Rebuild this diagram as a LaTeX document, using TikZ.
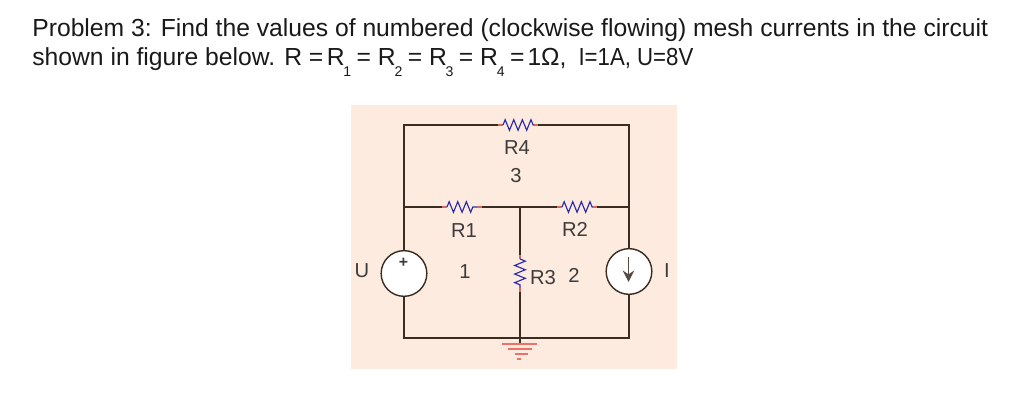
\documentclass[tikz,border=0pt]{standalone}
\usepackage{fontspec}
\setmainfont{Liberation Sans}
\usetikzlibrary{decorations.pathmorphing,arrows.meta,positioning}
\definecolor{panelbg}{HTML}{FDEBDF}
\definecolor{wirecol}{HTML}{3A2C22}
\definecolor{rescol}{HTML}{2A2AA8}
\definecolor{stubcol}{HTML}{D96A5A}
\definecolor{gndcol}{HTML}{EC7268}
\definecolor{labelcol}{HTML}{3C3C3C}
\newcommand{\subnum}[1]{\hspace{-0.7pt}\raisebox{-5.7pt}{\fontsize{8}{9}\selectfont #1}\hspace{-0.8pt}}
\tikzset{
  wire/.style={wirecol, line width=0.8pt},
  stub/.style={stubcol, line width=0.8pt},
  res/.style={rescol, line width=0.65pt, decorate,
    decoration={zigzag, amplitude=3pt, segment length=4.9pt}},
  gnd/.style={gndcol, line width=1.4pt},
  source/.style={circle, draw=wirecol, fill=white, line width=0.8pt, minimum size=26pt, inner sep=0pt},
  lbl/.style={text=labelcol, font=\fontsize{11.5}{13}\selectfont, inner sep=0pt},
  title/.style={anchor=base west, inner sep=0pt, text=black!90, font=\fontsize{14.05}{16}\selectfont}
}
\begin{document}
\begin{tikzpicture}[x=0.02cm,y=0.02cm]
                \useasboundingbox (0,0) rectangle (1015,404);
                \fill[panelbg] (351,35) rectangle (677,299);

                \node[title] (line1) at (32,367) {Problem 3: Find the values of numbered (clockwise flowing) mesh currents in the circuit};
                \node[title] (line2) at (32,338) {shown in figure below. R =\hspace{-2pt} R\subnum{1} = R\subnum{2} = R\subnum{3} = R\subnum{4} =\hspace{-2.2pt} 1Ω,~\hspace{-1pt} \scalebox{0.9}[1]{I=1A, U=8V}};

                % junctions
                \coordinate (tl) at (404,279);
                \coordinate (tr) at (629,279);
                \coordinate (ml) at (404,197);
                \coordinate (mm) at (520,197);
                \coordinate (mr) at (629,197);
                \coordinate (bl) at (404,66);
                \coordinate (bm) at (520,66);
                \coordinate (br) at (629,66);
                \coordinate (gtop) at (520,60);
                % resistor ends: a,b outer, c,d where the zigzag starts
                \coordinate (r4a) at (498,279);
                \coordinate (r4c) at (503,279);
                \coordinate (r4d) at (534,279);
                \coordinate (r4b) at (538,279);
                \coordinate (r1a) at (442,197);
                \coordinate (r1c) at (447,197);
                \coordinate (r1d) at (477,197);
                \coordinate (r1b) at (482,197);
                \coordinate (r2a) at (557,197);
                \coordinate (r2c) at (562,197);
                \coordinate (r2d) at (593,197);
                \coordinate (r2b) at (597,197);
                \coordinate (r3a) at (520,149);
                \coordinate (r3c) at (520,145);
                \coordinate (r3d) at (520,116);
                \coordinate (r3b) at (520,112);

                \node[source] (srcu) at (404,130.5) {};
                \node[source] (srci) at (629,132.5) {};

                % wires
                \draw[wire] (r4a) -- (tl) -- (ml) -- (r1a);
                \draw[wire] (r4b) -- (tr) -- (mr) -- (r2b);
                \draw[wire] (r1b) -- (mm) -- (r2a);
                \draw[wire] (mm) -- (r3a);
                \draw[wire] (r3b) -- (bm);
                \draw[wire] (ml) -- (srcu);
                \draw[wire] (mr) -- (srci);
                \draw[wire] (srcu) -- (bl) -- (br) -- (srci);
                \draw[wire] (bm) -- (gtop);

                % resistors
                \draw[stub] (r4a) -- (r4c) (r4d) -- (r4b);
                \draw[stub] (r1a) -- (r1c) (r1d) -- (r1b);
                \draw[stub] (r2a) -- (r2c) (r2d) -- (r2b);
                \draw[stub] (r3a) -- (r3c) (r3d) -- (r3b);
                \draw[res] (r4c) -- (r4d);
                \draw[res] (r1c) -- (r1d);
                \draw[res] (r2c) -- (r2d);
                \draw[res] (r3c) -- (r3d);

                % ground
                \draw[gnd] (502,60) -- (537,60);
                \draw[gnd] (508,55) -- (532,55);
                \draw[gnd] (515,50) -- (528,50);
                \draw[gnd] (517,45) -- (521,45);

                % inside the sources
                \node[lbl, font=\fontsize{9}{10}\selectfont\bfseries] (plus) at (403.5,141) {+};
                \coordinate (arra) at (628.5,147);
                \coordinate (arrb) at (628.5,122);
                \draw[-{Stealth[length=6.5pt,width=6.5pt]}, wirecol!85, line width=0.8pt] (arra) -- (arrb);

                % labels
                \node[lbl] (lr4) at (517,256) {R4};
                \node[lbl] (l3) at (516,228) {3};
                \node[lbl] (lr1) at (464,173) {R1};
                \node[lbl] (lr2) at (575,175) {R2};
                \node[lbl] (lu) at (362,133) {U};
                \node[lbl] (l1) at (465,132) {1};
                \node[lbl] (lr3) at (543,126) {R3};
                \node[lbl] (l2) at (574,129) {2};
                \node[lbl] (li) at (667,133) {I};
                \end{tikzpicture}
\end{document}
